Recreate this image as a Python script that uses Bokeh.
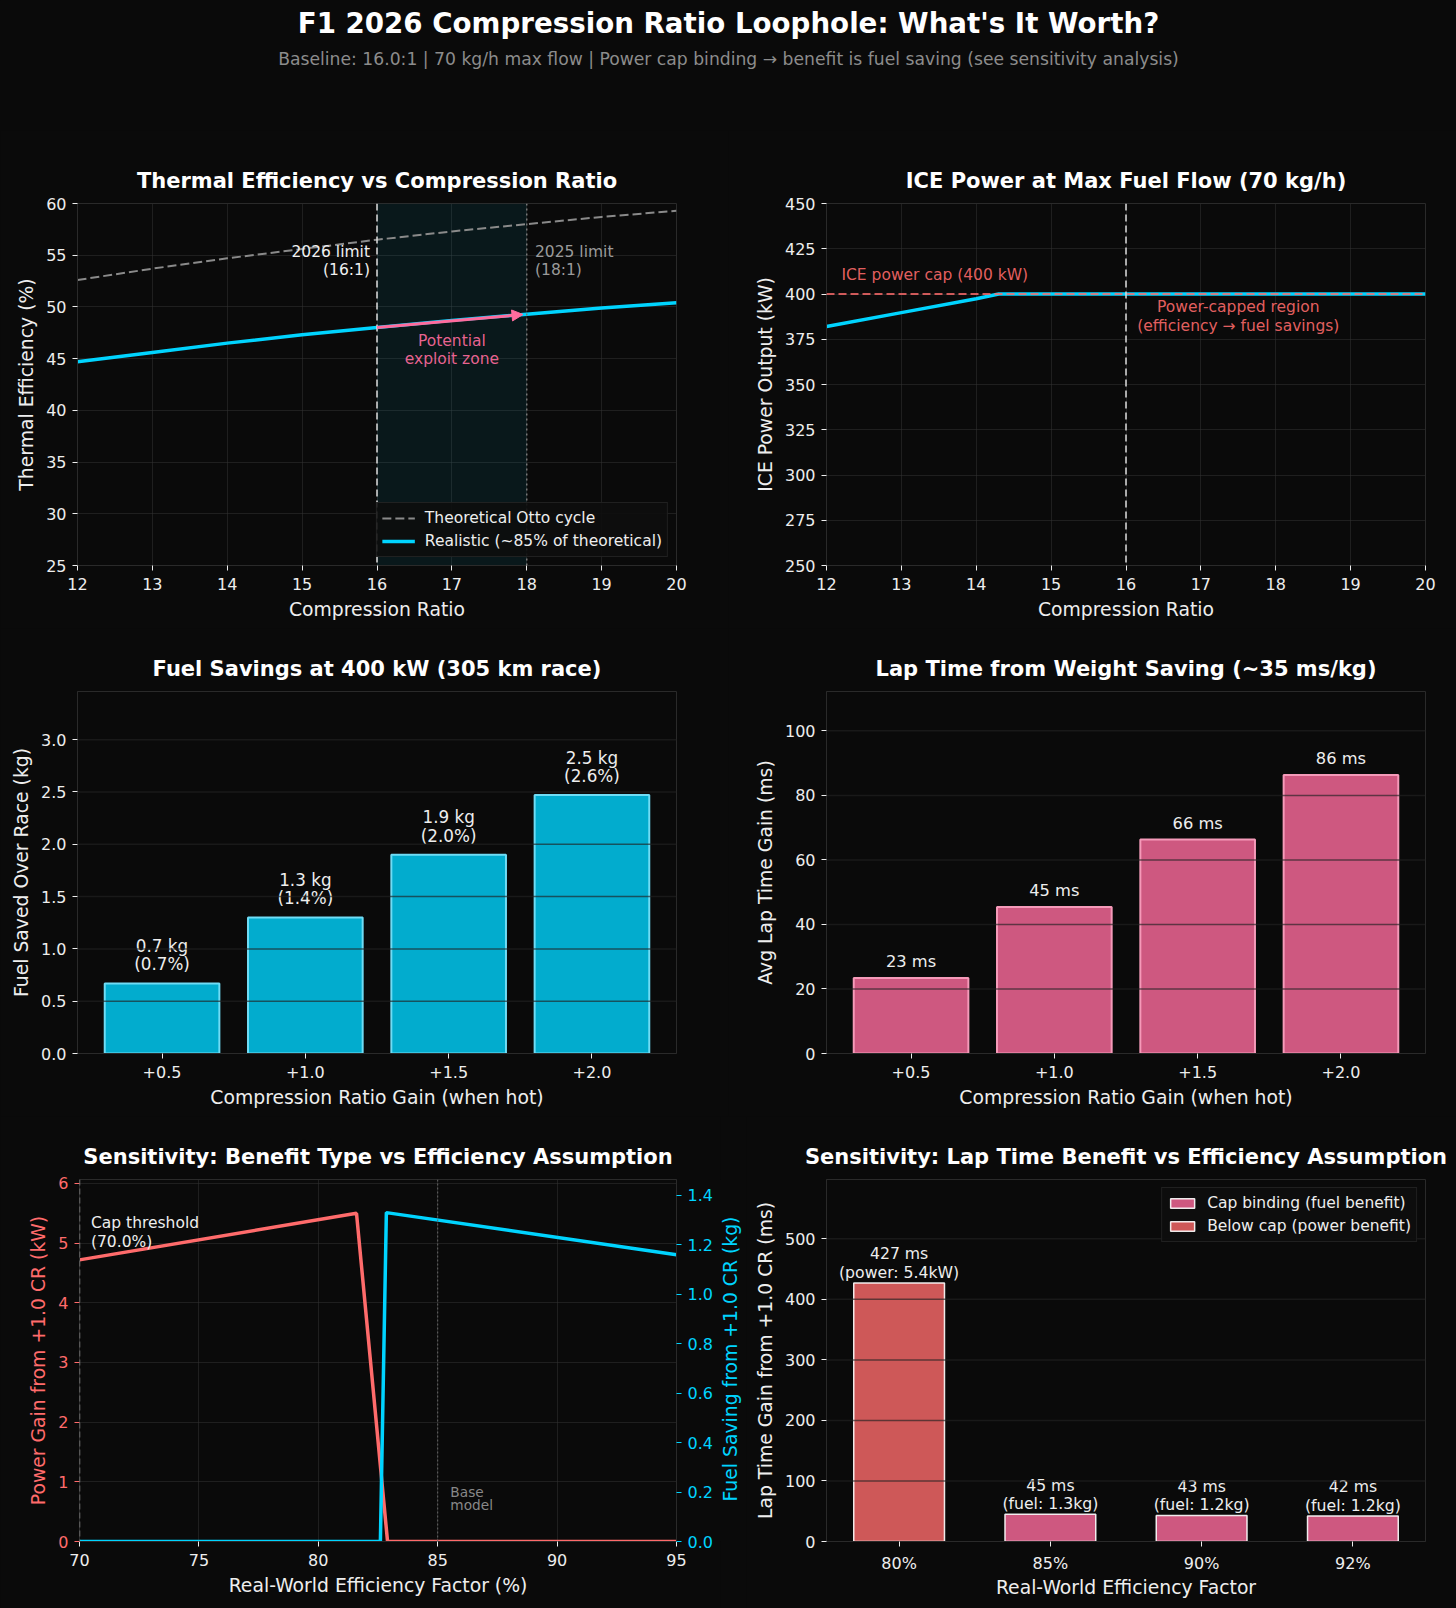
import math
from bokeh.plotting import figure
from bokeh.layouts import column, row
from bokeh.models import (Range1d, LinearAxis, FixedTicker, Span, BoxAnnotation,
                          Legend, LegendItem, Arrow, NormalHead, PrintfTickFormatter)
from bokeh.core.properties import value
from bokeh.embed import file_html
from bokeh.resources import INLINE

# ---------------- data ----------------
main_title = "F1 2026 Compression Ratio Loophole: What's It Worth?"
subtitle = ("Baseline: 16.0:1 | 70 kg/h max flow | Power cap binding \u2192 "
            "benefit is fuel saving (see sensitivity analysis)")

compression_ratio = [12, 13, 14, 15, 16, 17, 18, 19, 20]
otto_efficiency = [52.6, 53.7, 54.7, 55.6, 56.5, 57.3, 58.0, 58.7, 59.3]
realistic_efficiency = [44.7, 45.6, 46.5, 47.3, 48.0, 48.7, 49.3, 49.9, 50.4]
limit_2026 = 16
limit_2025 = 18

power_cr = [12, 13, 14, 14.3, 15, 16, 17, 18, 19, 20]
ice_power_kw = [382, 389.7, 397.4, 400, 400, 400, 400, 400, 400, 400]
power_cap_kw = 400

cr_gain_labels = ["+0.5", "+1.0", "+1.5", "+2.0"]
fuel_saved_kg = [0.67, 1.30, 1.90, 2.47]
fuel_saved_pct = [0.7, 1.4, 2.0, 2.6]
lap_gain_ms = [23.4, 45.4, 66.3, 86.3]

sens_eff_power = [70, 81.6, 82.9, 95]
sens_power_gain_kw = [4.72, 5.50, 0.0, 0.0]
sens_eff_fuel = [70, 82.6, 82.85, 95]
sens_fuel_saving_kg = [0.0, 0.0, 1.33, 1.16]
cap_threshold_pct = 70.0
base_model_pct = 85

eff_factor_labels = ["80%", "85%", "90%", "92%"]
lap_benefit_ms = [427, 45, 43, 42]
benefit_type = ["power", "fuel", "fuel", "fuel"]
benefit_detail = ["power: 5.4kW", "fuel: 1.3kg", "fuel: 1.2kg", "fuel: 1.2kg"]

# ---------------- style ----------------
FONT = "DejaVu Sans"
BG = "#0a0a0a"
CYAN = "#00d4ff"
PINK = "#ff6b9d"
RED = "#ff6b6b"
TXT = "#eeeeee"
GRID = "#333333"
FRAME_H = 362
ANN = 15.5


def style_axis(ax, color=TXT, label_color=TXT):
    ax.axis_label_text_font = FONT
    ax.axis_label_text_font_size = "18.8px"
    ax.axis_label_text_font_style = "normal"
    ax.axis_label_text_color = label_color
    ax.major_label_text_font = FONT
    ax.major_label_text_font_size = "16px"
    ax.major_label_text_color = color
    ax.axis_line_color = "#2a2a2a"
    ax.major_tick_line_color = color
    ax.major_tick_out = 5
    ax.major_tick_in = 0
    ax.minor_tick_line_color = None


def base_fig(title, width, height, left, right, top, bottom, xr, yr, xlabel, ylabel):
    p = figure(width=width, height=height, title=title,
               x_range=Range1d(*xr), y_range=Range1d(*yr),
               output_backend="svg", toolbar_location=None, tools="",
               min_border_left=left, min_border_right=right,
               min_border_top=top, min_border_bottom=bottom,
               background_fill_color=BG, border_fill_color=BG,
               outline_line_color="#2a2a2a", outline_line_width=1)
    t = p.title
    t.text_font = FONT
    t.text_font_size = "21px"
    t.text_font_style = "bold"
    t.text_color = "#ffffff"
    t.align = "center"
    if "standoff" in t.properties():
        t.standoff = 22
    for ax in p.xaxis:
        style_axis(ax)
        ax.major_label_standoff = 7
        ax.axis_label_standoff = 6
        ax.axis_label = xlabel
    for ax in p.yaxis:
        style_axis(ax)
        ax.major_label_standoff = 6
        ax.axis_label_standoff = 6
        ax.axis_label = ylabel
    p.grid.grid_line_color = GRID
    p.grid.grid_line_alpha = 0.5
    p.grid.grid_line_width = 1
    return p


def blank_fig(width, height):
    p = figure(width=width, height=height, x_range=Range1d(0, width), y_range=Range1d(0, height),
               x_axis_type=None, y_axis_type=None, output_backend="svg",
               toolbar_location=None, tools="", min_border=0,
               min_border_left=0, min_border_right=0, min_border_top=0, min_border_bottom=0,
               background_fill_color=BG, border_fill_color=BG, outline_line_color=None)
    return p


def upp(p, frame_h=FRAME_H):
    return (p.y_range.end - p.y_range.start) / frame_h


def dy(p, px):
    return px * upp(p)


def txt(p, x, y, text, size=ANN, color=TXT, align="left", style="normal", alpha=1.0,
        frame_h=FRAME_H):
    # y values are text baselines; shift so the rendered text sits on that baseline
    shift = 0.36 * size * upp(p, frame_h)
    p.text(x=x, y=[v + shift for v in y], text=text, text_font=value(FONT),
           text_font_size=f"{size}px", text_color=color, text_alpha=alpha,
           text_align=align, text_baseline="alphabetic", text_font_style=style)


def hgrid(p, ticks):
    p.xgrid.visible = False
    p.ygrid.visible = False
    for t in ticks:
        p.add_layout(Span(location=t, dimension="width", line_color="#222222",
                          line_alpha=0.65, line_width=1.5))


# ---------------- header ----------------
HEAD_H = 130
header = blank_fig(1456, HEAD_H)
txt(header, [728], [HEAD_H - 33.3], [main_title], size=27.7, color="#ffffff",
    align="center", style="bold", frame_h=HEAD_H)
txt(header, [728], [HEAD_H - 65], [subtitle], size=17.2, color="#8c8c8c", align="center",
    frame_h=HEAD_H)

# ---------------- panel 1 ----------------
p1 = base_fig("Thermal Efficiency vs Compression Ratio", 728, 498, 77, 52, 73, 63,
              (12, 20), (25, 60), "Compression Ratio", "Thermal Efficiency (%)")
p1.xaxis.ticker = FixedTicker(ticks=list(range(12, 21)))
p1.yaxis.ticker = FixedTicker(ticks=list(range(25, 61, 5)))
p1.add_layout(BoxAnnotation(left=limit_2026, right=limit_2025, fill_color=CYAN,
                            fill_alpha=0.07, line_alpha=0, level="underlay"))
r_otto = p1.line(compression_ratio, otto_efficiency, line_color="#8a8a8a", line_width=2,
                 line_dash="9 4")
r_real = p1.line(compression_ratio, realistic_efficiency, line_color=CYAN, line_width=3.5)
p1.add_layout(Span(location=limit_2026, dimension="height", line_color="#dddddd",
                   line_dash="7 4", line_width=1.5))
p1.add_layout(Span(location=limit_2025, dimension="height", line_color="#777777",
                   line_dash="2 3", line_width=1.5))
i16 = compression_ratio.index(limit_2026)
i18 = compression_ratio.index(limit_2025)
p1.add_layout(Arrow(end=NormalHead(size=11, fill_color=PINK, line_color=PINK),
                    x_start=limit_2026, y_start=realistic_efficiency[i16],
                    x_end=limit_2025 - 0.05, y_end=realistic_efficiency[i18] - 0.03,
                    line_color=PINK, line_width=3))
txt(p1, [limit_2026 - 0.094] * 2, [54.75, 53.04], ["2026 limit", f"({limit_2026}:1)"],
    align="right", color="#f0f0f0")
txt(p1, [limit_2025 + 0.11] * 2, [54.75, 53.04], ["2025 limit", f"({limit_2025}:1)"],
    color="#9a9a9a")
txt(p1, [(limit_2026 + limit_2025) / 2] * 2, [46.2, 44.45], ["Potential", "exploit zone"],
    align="center", color=PINK, alpha=0.92)
leg1 = Legend(items=[LegendItem(label="Theoretical Otto cycle", renderers=[r_otto]),
                     LegendItem(label="Realistic (~85% of theoretical)", renderers=[r_real])],
              location="bottom_right")

# ---------------- panel 2 ----------------
p2 = base_fig("ICE Power at Max Fuel Flow (70 kg/h)", 728, 498, 98, 31, 73, 63,
              (12, 20), (250, 450), "Compression Ratio", "ICE Power Output (kW)")
p2.xaxis.ticker = FixedTicker(ticks=list(range(12, 21)))
p2.yaxis.ticker = FixedTicker(ticks=list(range(250, 451, 25)))
p2.line(power_cr, ice_power_kw, line_color=CYAN, line_width=3.5)
p2.add_layout(Span(location=power_cap_kw, dimension="width", line_color=RED, line_alpha=0.8,
                   line_dash="8 4", line_width=2))
p2.add_layout(Span(location=limit_2026, dimension="height", line_color="#dddddd",
                   line_dash="7 4", line_width=1.5))
txt(p2, [12.2], [power_cap_kw + 7.5], [f"ICE power cap ({power_cap_kw} kW)"], color=RED,
    alpha=0.9)
txt(p2, [17.5, 17.5], [power_cap_kw - 10.4, power_cap_kw - 20.6],
    ["Power-capped region", "(efficiency \u2192 fuel savings)"], color=RED, alpha=0.9,
    align="center")

# ---------------- panel 3 ----------------
xs = list(range(len(cr_gain_labels)))
p3 = base_fig("Fuel Savings at 400 kW (305 km race)", 728, 488, 77, 52, 63, 63,
              (-0.59, 3.59), (0, 3.46), "Compression Ratio Gain (when hot)",
              "Fuel Saved Over Race (kg)")
p3.xaxis.ticker = FixedTicker(ticks=xs)
p3.xaxis.major_label_overrides = {i: l for i, l in zip(xs, cr_gain_labels)}
p3.yaxis.ticker = FixedTicker(ticks=[0, 0.5, 1.0, 1.5, 2.0, 2.5, 3.0])
p3.yaxis.formatter = PrintfTickFormatter(format="%.1f")
p3.vbar(x=xs, top=fuel_saved_kg, width=0.8, fill_color=CYAN, fill_alpha=0.8,
        line_color="#6fdcf5", line_width=2)
hgrid(p3, [0.5, 1.0, 1.5, 2.0, 2.5, 3.0])
txt(p3, xs, [v + dy(p3, 31.5) for v in fuel_saved_kg], [f"{v:.1f} kg" for v in fuel_saved_kg],
    size=16.8, align="center")
txt(p3, xs, [v + dy(p3, 13) for v in fuel_saved_kg], [f"({v:.1f}%)" for v in fuel_saved_pct],
    size=16.8, align="center")

# ---------------- panel 4 ----------------
p4 = base_fig("Lap Time from Weight Saving (~35 ms/kg)", 728, 488, 98, 31, 63, 63,
              (-0.59, 3.59), (0, 112.2), "Compression Ratio Gain (when hot)",
              "Avg Lap Time Gain (ms)")
p4.xaxis.ticker = FixedTicker(ticks=xs)
p4.xaxis.major_label_overrides = {i: l for i, l in zip(xs, cr_gain_labels)}
p4.yaxis.ticker = FixedTicker(ticks=[0, 20, 40, 60, 80, 100])
p4.vbar(x=xs, top=lap_gain_ms, width=0.8, fill_color=PINK, fill_alpha=0.8,
        line_color="#f59ab9", line_width=2)
hgrid(p4, [20, 40, 60, 80, 100])
txt(p4, xs, [v + dy(p4, 10.7) for v in lap_gain_ms], [f"{v:.0f} ms" for v in lap_gain_ms],
    size=16.3, align="center")

# ---------------- panel 5 ----------------
ROW3_H = 492
p5 = base_fig("Sensitivity: Benefit Type vs Efficiency Assumption", 720, ROW3_H, 79, 44, 63, 67,
              (70, 95), (0, 6.067), "Real-World Efficiency Factor (%)",
              "Power Gain from +1.0 CR (kW)")
p5.xaxis.ticker = FixedTicker(ticks=[70, 75, 80, 85, 90, 95])
p5.yaxis.ticker = FixedTicker(ticks=[0, 1, 2, 3, 4, 5, 6])
for ax in p5.yaxis:
    style_axis(ax, color=RED, label_color=RED)
p5.extra_y_ranges = {"fuel": Range1d(0, 1.464)}
rax = LinearAxis(y_range_name="fuel",
                 ticker=FixedTicker(ticks=[0, 0.2, 0.4, 0.6, 0.8, 1.0, 1.2, 1.4]),
                 formatter=PrintfTickFormatter(format="%.1f"))
style_axis(rax, color=CYAN, label_color=CYAN)
rax.major_label_standoff = 6
p5.add_layout(rax, "right")
p5.add_layout(Span(location=cap_threshold_pct, dimension="height", line_color="#999999",
                   line_alpha=0.8, line_dash="6 3", line_width=1.5))
p5.add_layout(Span(location=base_model_pct, dimension="height", line_color="#666666",
                   line_dash="2 2", line_width=1))
p5.line(sens_eff_power, sens_power_gain_kw, line_color=RED, line_width=3.5)
p5.line(sens_eff_fuel, sens_fuel_saving_kg, line_color=CYAN, line_width=3.5,
        y_range_name="fuel")
txt(p5, [cap_threshold_pct + 0.48] * 2, [5.24, 4.93],
    ["Cap threshold", f"({cap_threshold_pct:.1f}%)"])
txt(p5, [base_model_pct + 0.53] * 2, [0.754, 0.526], ["Base", "model"], size=13.7,
    color="#888888")

# right-axis label of panel 5 (reads bottom-to-top, like matplotlib)
rlab = blank_fig(26, ROW3_H)
rlab.text(x=[10], y=[ROW3_H - (63 + FRAME_H / 2)], text=["Fuel Saving from +1.0 CR (kg)"],
          angle=math.pi / 2, text_align="center", text_baseline="middle",
          text_font=value(FONT), text_font_size="18.8px", text_color=CYAN)

# ---------------- panel 6 ----------------
p6 = base_fig("Sensitivity: Lap Time Benefit vs Efficiency Assumption", 710, ROW3_H, 80, 31, 63,
              67, (-0.48, 3.48), (0, 598), "Real-World Efficiency Factor",
              "Lap Time Gain from +1.0 CR (ms)")
p6.xaxis.axis_label_standoff = 1
x6 = list(range(len(eff_factor_labels)))
p6.xaxis.ticker = FixedTicker(ticks=x6)
p6.xaxis.major_label_overrides = {i: l for i, l in zip(x6, eff_factor_labels)}
p6.yaxis.ticker = FixedTicker(ticks=[0, 100, 200, 300, 400, 500])
fuel_idx = [i for i, t in enumerate(benefit_type) if t == "fuel"]
power_idx = [i for i, t in enumerate(benefit_type) if t == "power"]
r_fuel = p6.vbar(x=fuel_idx, top=[lap_benefit_ms[i] for i in fuel_idx], width=0.6,
                 fill_color=PINK, fill_alpha=0.8, line_color="#ffffff", line_alpha=0.9,
                 line_width=1.5)
r_power = p6.vbar(x=power_idx, top=[lap_benefit_ms[i] for i in power_idx], width=0.6,
                  fill_color=RED, fill_alpha=0.8, line_color="#ffffff", line_alpha=0.9,
                  line_width=1.5)
hgrid(p6, [100, 200, 300, 400, 500])
txt(p6, x6, [v + dy(p6, 23.5) for v in lap_benefit_ms], [f"{v} ms" for v in lap_benefit_ms],
    size=15.7, align="center")
txt(p6, x6, [v + dy(p6, 5) for v in lap_benefit_ms], [f"({d})" for d in benefit_detail],
    size=15.7, align="center")
leg6 = Legend(items=[LegendItem(label="Cap binding (fuel benefit)", renderers=[r_fuel]),
                     LegendItem(label="Below cap (power benefit)", renderers=[r_power])],
              location="top_right")

for p, lg, gw, gh in [(p1, leg1, 33, 20), (p6, leg6, 30, 12)]:
    lg.label_text_font = FONT
    lg.label_text_font_size = f"{ANN}px"
    lg.label_text_color = TXT
    lg.background_fill_color = "#0d0d0d"
    lg.background_fill_alpha = 0.9
    lg.border_line_color = "#333333"
    lg.border_line_width = 1
    lg.glyph_width = gw
    lg.glyph_height = gh
    lg.label_height = 20
    lg.spacing = 3
    lg.padding = 5
    lg.margin = 8
    lg.label_standoff = 10
    p.add_layout(lg)

layout = column(header, row(p1, p2), row(p3, p4), row(p5, rlab, p6))
html = file_html(layout, INLINE)
html = html.replace("<head>", "<head><style>html,body{margin:0;padding:0;background:#0a0a0a;}</style>", 1)
open("out.html", "w").write(html)
